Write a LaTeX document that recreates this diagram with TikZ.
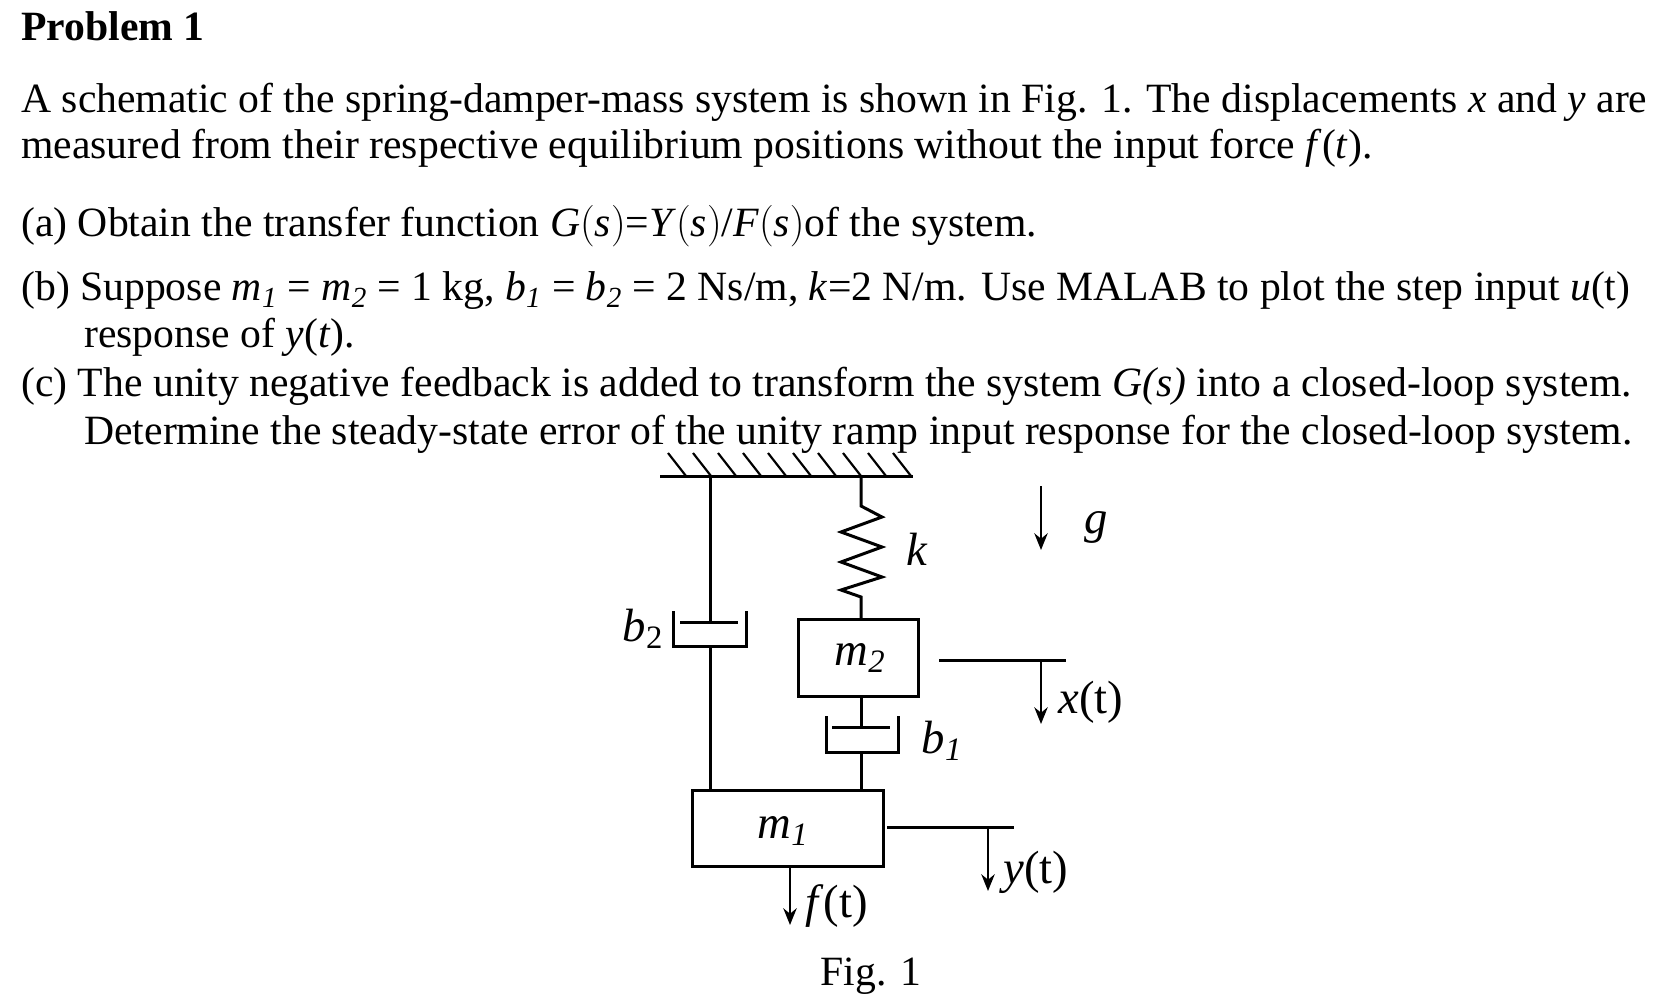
\documentclass[tikz,border=0pt]{standalone}
\usepackage{fontspec}
\setmainfont{Liberation Serif}
\usetikzlibrary{arrows.meta}
\begin{document}
\begin{tikzpicture}[x=0.6pt,y=-0.6pt,
  txt/.style={anchor=base west,inner sep=0,font=\fontsize{25}{29}\selectfont},
  lab/.style={inner sep=0,font=\fontsize{28}{31}\selectfont},
  ln/.style={line width=1.8pt},
  arr/.style={line width=1.6pt,-{Stealth[length=10pt,width=8pt]}}]
\useasboundingbox (0,0) rectangle (1676,1000);
\node[txt,font=\bfseries\fontsize{25}{29}\selectfont] (p) at (21,41) {Problem 1};
\node[txt] (l1) at (21,113) {A schematic of the spring-damper-mass system is shown in Fig. 1. The displacements \textit{x} and \textit{y} are};
\node[txt] (l2) at (21,159) {measured from their respective equilibrium positions without the input force \textit{f}(\textit{t}).};
\node[txt] (l3) at (21,237) {(a) Obtain the transfer function \textit{G}$\big($\textit{s}$\big)$=\textit{Y}$\big($\textit{s}$\big)$/\textit{F}$\big($\textit{s}$\big)$of the system.};
\node[txt] (l4) at (21,301) {(b) Suppose \textit{m\textsubscript{1}} = \textit{m\textsubscript{2}} = 1 kg, \textit{b\textsubscript{1}} = \textit{b\textsubscript{2}} = 2 Ns/m, \textit{k}=2 N/m. Use MALAB to plot the step input \textit{u}(t)};
\node[txt] (l5) at (84,348) {response of \textit{y}(\textit{t}).};
\node[txt] (l6) at (21,396) {(c) The unity negative feedback is added to transform the system \textit{G(s)} into a closed-loop system.};
\node[txt] (l7) at (84,444) {Determine the steady-state error of the unity ramp input response for the closed-loop system.};
% ground
\draw[ln] (660,476) -- (913,476);
\foreach \i in {0,...,9} \draw[line width=1.3pt] (668+\i*25,453) -- (686+\i*25,476);
% masses
\node[draw,ln,minimum width=120*0.6pt,minimum height=77*0.6pt,inner sep=0] (m2) at (858,657.5) {};
\node[draw,ln,minimum width=191*0.6pt,minimum height=76*0.6pt,inner sep=0] (m1) at (787.5,828) {};
\node[lab] (m2t) at (860,658) {\textit{m}\textsubscript{\textit{2}}};
\node[lab] (m1t) at (783,831) {\textit{m}\textsubscript{\textit{1}}};
% left damper b2
\draw[ln] (710,476) -- (710,622) (710,646) -- (710,790);
\draw[ln] (673,611) -- (673,646) -- (746,646) -- (746,611);
\draw[ln] (680,622) -- (738,622);
\node[lab] (b2) at (643,629) {\textit{b}\textsubscript{2}};
% spring
\draw[ln] (861,476) -- (861,506) -- (882,517) -- (841,532) -- (882,547) -- (841,562) -- (882,577) -- (841,590) -- (861,597) -- (861,619);
\node[lab] (k) at (917,549) {\textit{k}};
% damper b1
\draw[ln] (861,696) -- (861,727) (861,752) -- (861,790);
\draw[ln] (826,716) -- (826,752) -- (898,752) -- (898,716);
\draw[ln] (832,727) -- (890,727);
\node[lab] (b1) at (942,741) {\textit{b}\textsubscript{\textit{1}}};
% displacement indicators
\coordinate (xa) at (939,660); \coordinate (xb) at (1066,660);
\coordinate (xs) at (1041,660); \coordinate (xe) at (1041,724);
\draw[ln] (xa) -- (xb); \draw[arr] (xs) -- (xe);
\node[lab,anchor=west] (xt) at (1058,702) {\textit{x}(t)};
\coordinate (ya) at (887,827); \coordinate (yb) at (1014,827);
\coordinate (ys) at (988,827); \coordinate (ye) at (988,891);
\draw[ln] (ya) -- (yb); \draw[arr] (ys) -- (ye);
\node[lab,anchor=west] (yt) at (1003,872) {\textit{y}(t)};
\coordinate (fe) at (790,925);
\draw[arr] (m1.south -| fe) -- (fe);
\node[lab,anchor=west] (ft) at (805,906) {\textit{f}(t)};
\coordinate (gs) at (1041,486); \coordinate (ge) at (1041,550);
\draw[arr] (gs) -- (ge);
\node[lab] (g) at (1096,527) {\textit{g}};
\node[lab,font=\fontsize{25}{28}\selectfont] (fig) at (871,976) {Fig. 1};
\end{tikzpicture}
\end{document}
